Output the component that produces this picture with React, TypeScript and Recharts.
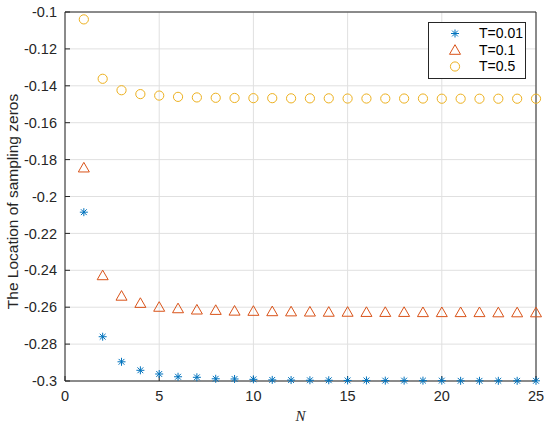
import { ScatterChart, Scatter, XAxis, YAxis, CartesianGrid, Legend } from 'recharts';

// N values and the sampling-zero locations
const nValues = [1, 2, 3, 4, 5, 6, 7, 8, 9, 10, 11, 12, 13, 14, 15, 16, 17, 18, 19, 20, 21, 22, 23, 24, 25];
const zerosT001 = [
  -0.2085, -0.276, -0.2896, -0.2942, -0.2962, -0.2977, -0.298, -0.2988, -0.2989, -0.2991,
  -0.2994, -0.2995, -0.2996, -0.2996, -0.2997, -0.2997, -0.2998, -0.2998, -0.2998, -0.2998,
  -0.2999, -0.2999, -0.2999, -0.2999, -0.2999,
];
const zerosT01 = [
  -0.1841, -0.2425, -0.2536, -0.2575, -0.2596, -0.2604, -0.2611, -0.2613, -0.2617, -0.2618,
  -0.262, -0.2621, -0.2622, -0.2623, -0.2623, -0.2624, -0.2624, -0.2624, -0.2625, -0.2625,
  -0.2625, -0.2625, -0.2626, -0.2626, -0.2626,
];
const zerosT05 = [
  -0.104, -0.1362, -0.1424, -0.1445, -0.1453, -0.146, -0.1463, -0.1465, -0.1466, -0.1467,
  -0.1467, -0.1468, -0.1468, -0.1468, -0.1469, -0.1469, -0.1469, -0.1469, -0.1469, -0.147,
  -0.147, -0.147, -0.147, -0.147, -0.147,
];

const xTicks = [0, 5, 10, 15, 20, 25];
const yTicks = [-0.3, -0.28, -0.26, -0.24, -0.22, -0.2, -0.18, -0.16, -0.14, -0.12, -0.1];

const seriesNames = ['T=0.01', 'T=0.1', 'T=0.5'];
const seriesColors = ['#0072BD', '#D95319', '#EDB120'];
const seriesValues = [zerosT001, zerosT01, zerosT05];
// the last series sits on the mirrored top/right axes (same domains) so the box gets drawn
const seriesAxes = [
  ['bottom', 'left'],
  ['bottom', 'left'],
  ['top', 'right'],
];

const FONT = '"Liberation Sans", Arial, Helvetica, sans-serif';
const AXIS_COLOR = '#262626';

const toPoints = (values: number[]) => nValues.map((n, i) => ({ n, z: values[i] }));

function marker(kind: number, cx: number, cy: number, color: string) {
  if (kind === 0) {
    const r = 4;
    const d = 2.9;
    return (
      <g stroke={color} strokeWidth={1} fill="none">
        <line x1={cx - r} y1={cy} x2={cx + r} y2={cy} />
        <line x1={cx} y1={cy - r} x2={cx} y2={cy + r} />
        <line x1={cx - d} y1={cy - d} x2={cx + d} y2={cy + d} />
        <line x1={cx - d} y1={cy + d} x2={cx + d} y2={cy - d} />
      </g>
    );
  }
  if (kind === 1) {
    const w = 5.5;
    const h = 4.8;
    return (
      <polygon
        points={`${cx},${cy - h} ${cx + w},${cy + h} ${cx - w},${cy + h}`}
        stroke={color}
        strokeWidth={1}
        fill="none"
      />
    );
  }
  return <circle cx={cx} cy={cy} r={4.6} stroke={color} strokeWidth={1} fill="none" />;
}

const makeShape = (kind: number, color: string) => (props: any) =>
  marker(kind, props.cx, props.cy, color);

const renderLegend = () => (
  <div
    style={{
      border: `1px solid ${AXIS_COLOR}`,
      background: '#fff',
      width: 96,
      padding: '2px 0 3px',
      fontFamily: FONT,
      fontSize: 14,
      color: '#000',
    }}
  >
    {seriesNames.map((name, i) => (
      <div key={name} style={{ display: 'flex', alignItems: 'center', height: 16.5 }}>
        <svg width={50} height={17} style={{ display: 'block' }}>
          {marker(i, 26, 8.5, seriesColors[i])}
        </svg>
        <span>{name}</span>
      </div>
    ))}
  </div>
);

export default function App() {
  return (
    <div style={{ position: 'absolute', left: 0, top: 0, width: 550, height: 428, background: '#fff' }}>
      <ScatterChart width={550} height={428} margin={{ top: 11, right: 13, bottom: 0, left: 0 }}>
        <CartesianGrid xAxisId="bottom" yAxisId="left" stroke="#e0e0e0" strokeWidth={1} />
        <XAxis
          xAxisId="bottom"
          type="number"
          dataKey="n"
          domain={[0, 25]}
          ticks={xTicks}
          height={47}
          stroke={AXIS_COLOR}
          tickSize={-5}
          tickMargin={15}
          tick={{ fontFamily: FONT, fontSize: 14.5, fill: AXIS_COLOR }}
          label={{
            content: (p: any) => (
              <text
                x={p.viewBox.x + p.viewBox.width / 2}
                y={p.viewBox.y + 40}
                textAnchor="middle"
                fontFamily='"Liberation Serif", "Times New Roman", serif'
                fontStyle="italic"
                fontSize={15}
                fill={AXIS_COLOR}
              >
                N
              </text>
            ),
          }}
        />
        <XAxis
          xAxisId="top"
          orientation="top"
          type="number"
          dataKey="n"
          domain={[0, 25]}
          ticks={xTicks}
          height={1}
          stroke={AXIS_COLOR}
          tickSize={-5}
          tick={false}
        />
        <YAxis
          yAxisId="left"
          type="number"
          dataKey="z"
          domain={[-0.3, -0.1]}
          ticks={yTicks}
          width={65}
          stroke={AXIS_COLOR}
          tickSize={-5}
          tickMargin={13}
          tickFormatter={(v: number) => String(Number(v.toFixed(2)))}
          tick={{ fontFamily: FONT, fontSize: 14.5, fill: AXIS_COLOR }}
          label={{
            content: (p: any) => {
              const x = 18;
              const y = p.viewBox.y + p.viewBox.height / 2 + 5;
              return (
                <text
                  x={x}
                  y={y}
                  transform={`rotate(-90, ${x}, ${y})`}
                  textAnchor="middle"
                  fontFamily={FONT}
                  fontSize={15.5}
                  fill={AXIS_COLOR}
                >
                  The Location of sampling zeros
                </text>
              );
            },
          }}
        />
        <YAxis
          yAxisId="right"
          orientation="right"
          type="number"
          dataKey="z"
          domain={[-0.3, -0.1]}
          ticks={yTicks}
          width={1}
          stroke={AXIS_COLOR}
          tickSize={-5}
          tick={false}
        />
        <Legend
          layout="horizontal"
          verticalAlign="middle"
          align="center"
          content={renderLegend}
          wrapperStyle={{ top: 22, left: 428, width: 'auto' }}
        />
        {seriesNames.map((name, i) => (
          <Scatter
            key={name}
            name={name}
            xAxisId={seriesAxes[i][0]}
            yAxisId={seriesAxes[i][1]}
            data={toPoints(seriesValues[i])}
            fill={seriesColors[i]}
            shape={makeShape(i, seriesColors[i])}
            isAnimationActive={false}
          />
        ))}
      </ScatterChart>
    </div>
  );
}
